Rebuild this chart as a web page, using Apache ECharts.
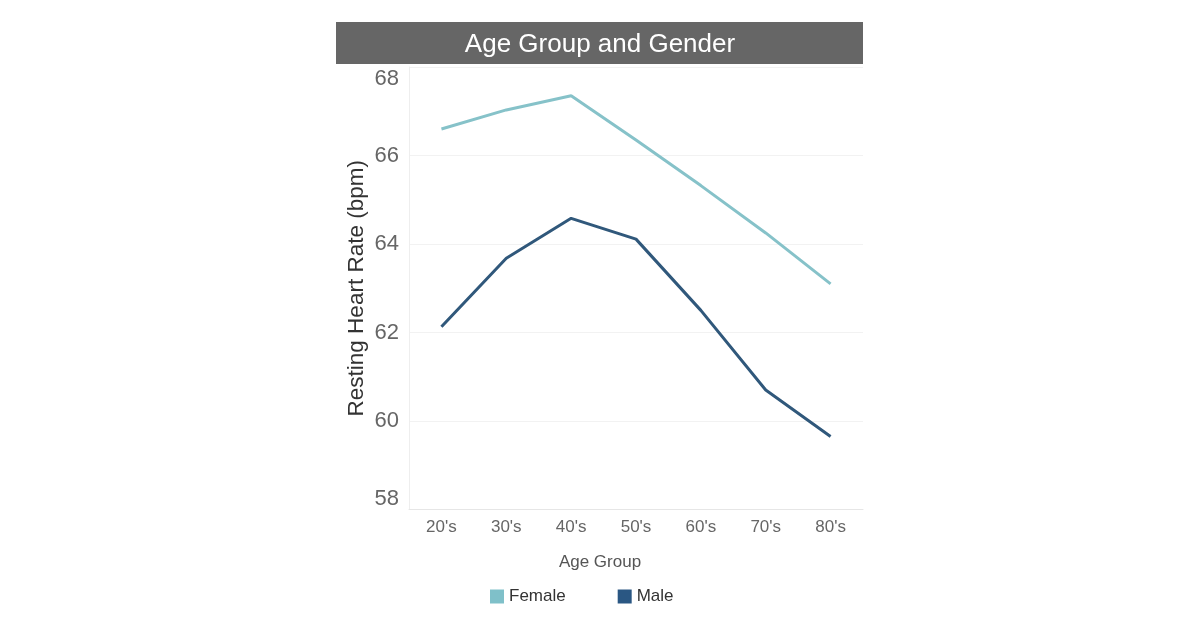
<!DOCTYPE html>
<html>
<head>
<meta charset="utf-8">
<script src="https://cdn.jsdelivr.net/npm/echarts@6/dist/echarts.min.js"></script>
<style>
  html, body { margin: 0; padding: 0; background: #fff; }
  #chart { width: 1200px; height: 627px; }
</style>
</head>
<body>
<div id="chart"></div>
<script>
const ageGroups = ["20's", "30's", "40's", "50's", "60's", "70's", "80's"]
const female = [66.6, 67.03, 67.35, 66.35, 65.32, 64.25, 63.1]
const male = [62.13, 63.68, 64.58, 64.11, 62.5, 60.7, 59.65]
const yTicks = [58, 60, 62, 64, 66, 68]

const chart = echarts.init(document.getElementById('chart'))

const font = '"Liberation Sans", Arial, sans-serif'

const option = {
  animation: false,
  textStyle: { fontFamily: font },
  graphic: [
    {
      type: 'rect',
      shape: { x: 336, y: 22, width: 527, height: 42 },
      style: { fill: '#666666' },
      z: 0
    }
  ],
  title: {
    text: 'Age Group and Gender',
    left: 'center',
    top: 27,
    textStyle: { color: '#fff', fontSize: 26, fontWeight: 'normal', fontFamily: font }
  },
  legend: {
    left: 485,
    top: 583,
    icon: 'rect',
    itemWidth: 14,
    itemHeight: 14,
    itemGap: 52,
    textStyle: { color: '#333', fontSize: 17, fontFamily: font },
    data: ['Female', 'Male']
  },
  grid: { left: 409, right: 337, top: 67, bottom: 117.5 },
  xAxis: {
    type: 'category',
    data: ageGroups,
    name: 'Age Group',
    nameLocation: 'middle',
    nameGap: 44,
    nameTextStyle: { color: '#555', fontSize: 17, padding: [0, 72, 0, 0] },
    axisLine: { lineStyle: { color: '#e6e6e6' } },
    axisTick: { length: 8, lineStyle: { color: '#e6e6e6' } },
    axisLabel: { color: '#666', fontSize: 17, margin: 9 },
    splitLine: { show: false }
  },
  yAxis: {
    type: 'value',
    min: yTicks[0],
    max: yTicks[yTicks.length - 1],
    interval: 2,
    name: 'Resting Heart Rate (bpm)',
    nameLocation: 'middle',
    nameGap: 41,
    nameTextStyle: { color: '#333', fontSize: 22.5 },
    axisLine: { show: true, lineStyle: { color: '#eeeeee' } },
    axisTick: { show: false },
    axisLabel: {
      color: '#666',
      fontSize: 22,
      margin: 10,
      formatter: function (v) {
        if (v === yTicks[0]) return '{lo|' + v + '}'
        if (v === yTicks[yTicks.length - 1]) return '{hi|' + v + '}'
        return v
      },
      rich: {
        lo: { color: '#666', fontSize: 22, padding: [0, 0, 22, 0] },
        hi: { color: '#666', fontSize: 22, padding: [24, 0, 0, 0] }
      }
    },
    splitLine: { lineStyle: { color: '#f2f2f2' } }
  },
  series: [
    {
      name: 'Female',
      type: 'line',
      data: female,
      symbol: 'none',
      itemStyle: { color: '#7fc0c9' },
      lineStyle: { color: '#86c2c9', width: 3 }
    },
    {
      name: 'Male',
      type: 'line',
      data: male,
      symbol: 'none',
      itemStyle: { color: '#2a5783' },
      lineStyle: { color: '#30587b', width: 3 }
    }
  ]
}

chart.setOption(option)
</script>
</body>
</html>
